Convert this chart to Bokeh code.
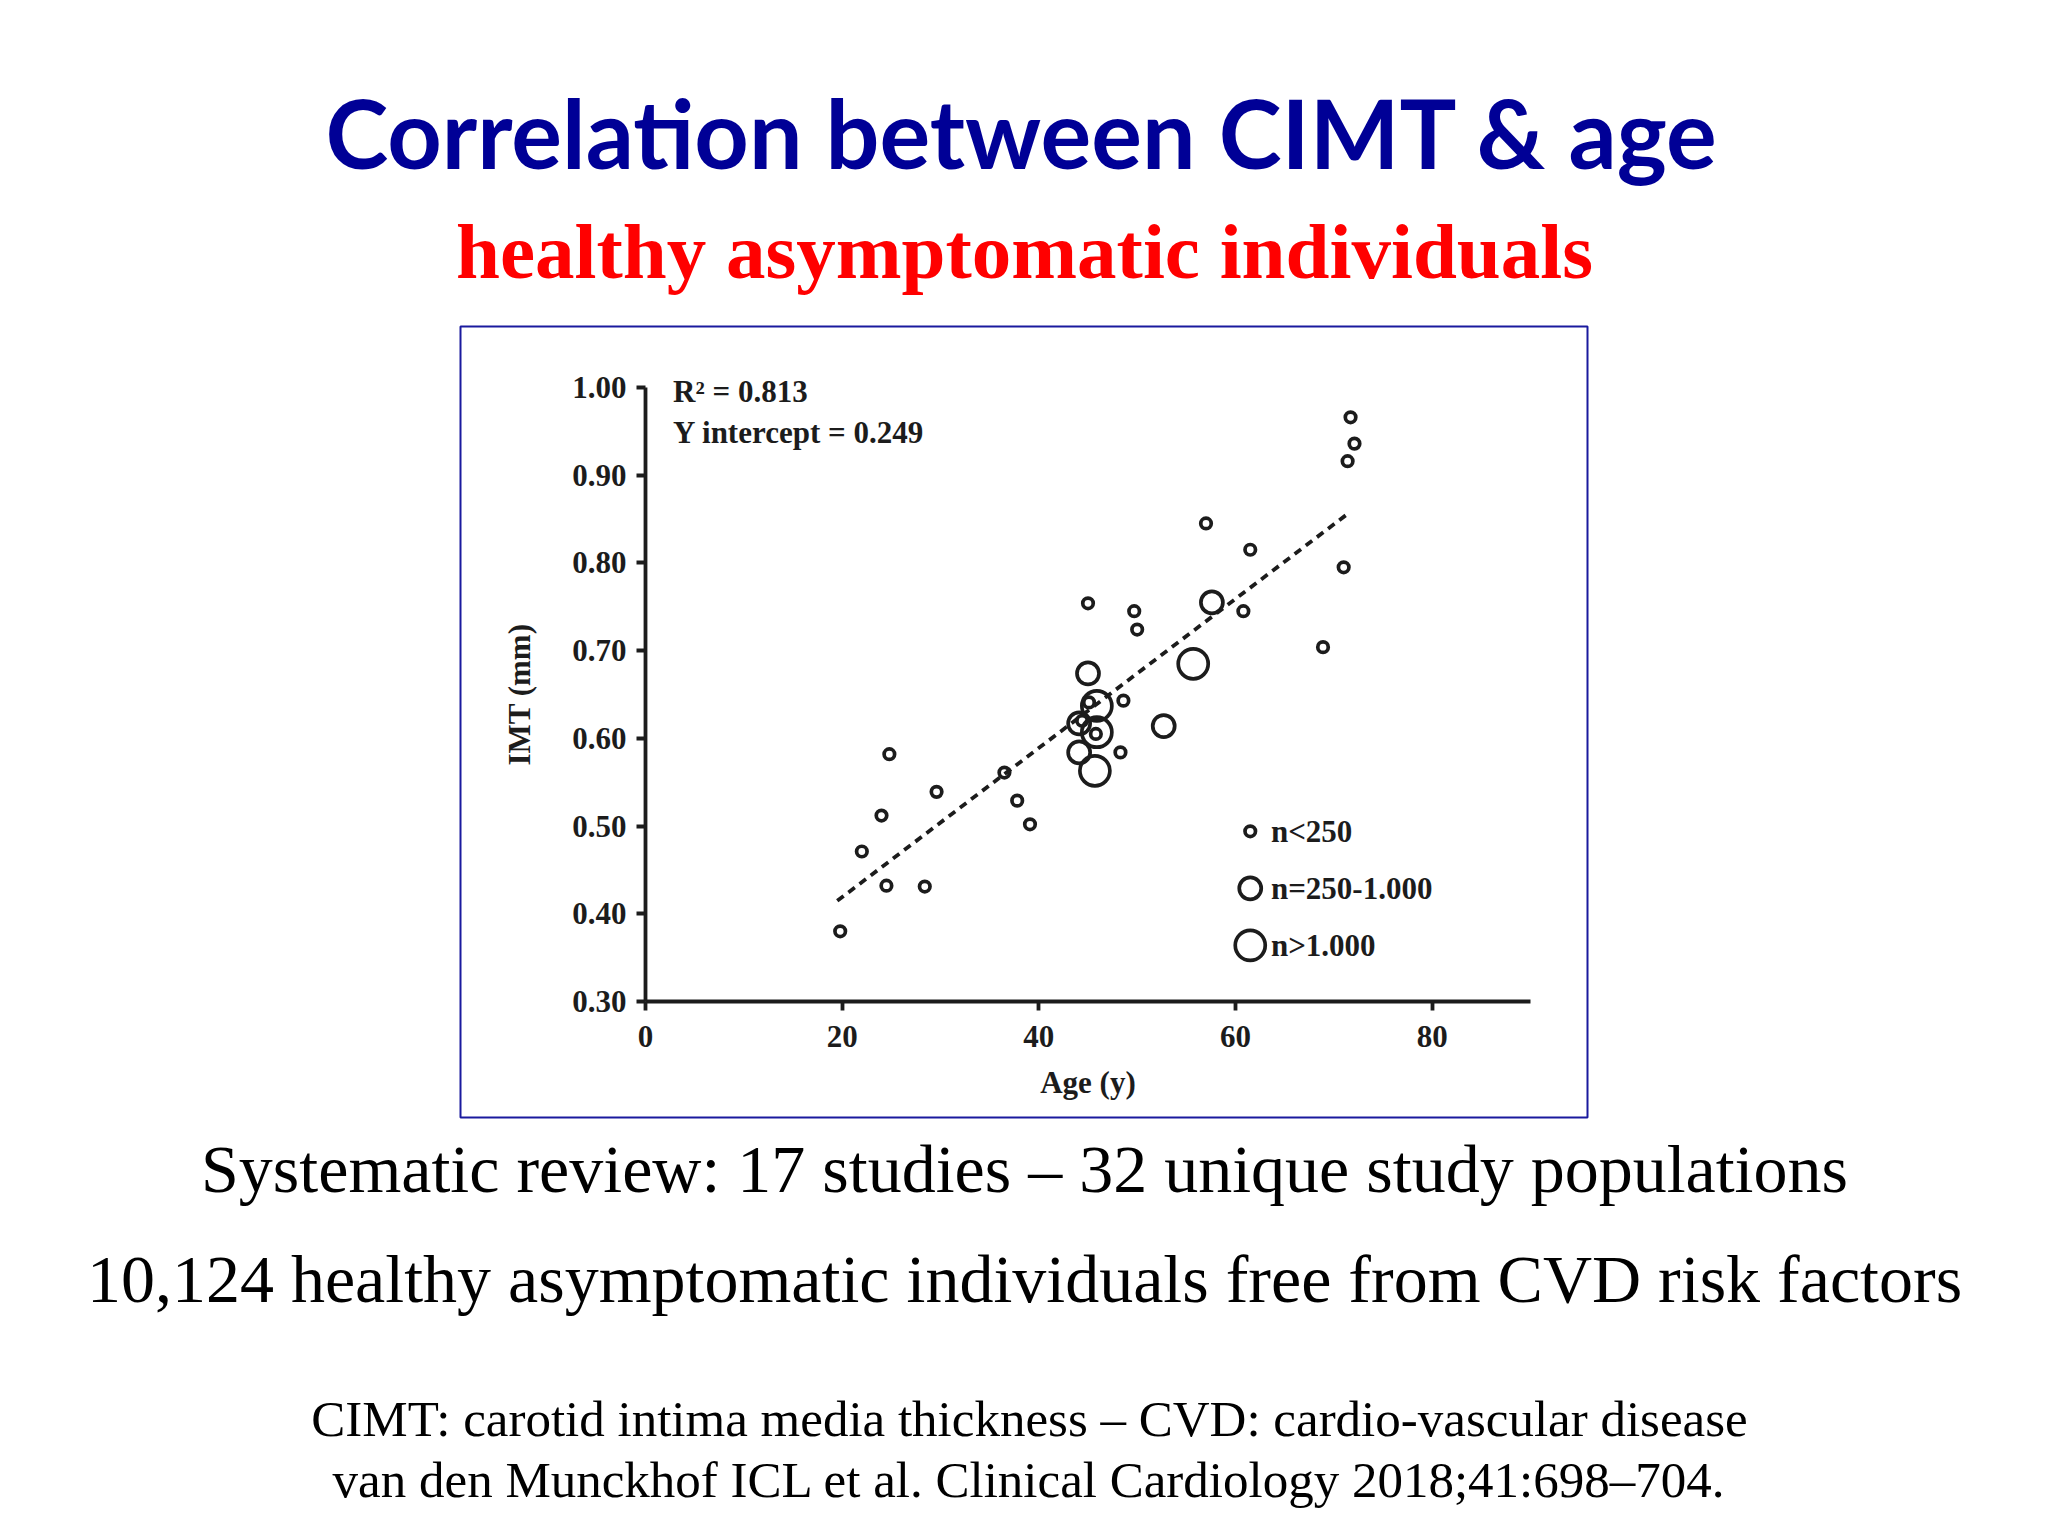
from bokeh.plotting import figure
from bokeh.models import Label, BoxAnnotation, FixedTicker, NumeralTickFormatter, Range1d
from bokeh.embed import file_html
from bokeh.resources import INLINE

# Study populations: mean age (years) and mean CIMT (mm), grouped by sample size
small_age = [19.8, 22.0, 24.0, 24.8, 24.5, 28.4, 29.6, 36.5, 37.8, 39.1,
             45.0, 49.7, 50.0, 60.8, 57.0, 61.5, 68.9, 71.0, 71.4, 72.1, 71.7,
             45.1, 48.6, 45.8, 48.3, 44.4]
small_imt = [0.380, 0.471, 0.512, 0.582, 0.432, 0.431, 0.539, 0.561, 0.529, 0.502,
             0.754, 0.745, 0.724, 0.745, 0.845, 0.815, 0.704, 0.795, 0.916, 0.936, 0.966,
             0.641, 0.643, 0.605, 0.584, 0.620]
medium_age = [57.6, 45.0, 44.1, 52.7, 44.1]
medium_imt = [0.755, 0.674, 0.617, 0.614, 0.584]
large_age = [55.7, 45.9, 45.9, 45.7]
large_imt = [0.685, 0.637, 0.607, 0.563]

# Regression line
trend_intercept = 0.249
trend_slope = 0.0085
trend_age = [19.5, 71.2]
r_squared = 0.813

x_ticks = [0, 20, 40, 60, 80]
y_ticks = [0.30, 0.40, 0.50, 0.60, 0.70, 0.80, 0.90, 1.00]
legend_labels = ["n<250", "n=250-1.000", "n>1.000"]

# ---- page geometry (pixels) ----
W, H = 2048, 1536
AX_L, AX_R, AX_T, AX_B = 645, 1530, 387, 1001   # where the axes sit on the page
AGE_MAX, IMT_MIN, IMT_MAX = 90.0, 0.30, 1.00
px_per_year = (AX_R - AX_L) / AGE_MAX
px_per_mm = (AX_B - AX_T) / (IMT_MAX - IMT_MIN)

# the plotting frame covers the whole page; the data ranges are set so that
# the axes land at the positions above
x_range = Range1d(-AX_L / px_per_year, (W - AX_L) / px_per_year)
y_range = Range1d(IMT_MIN - (H - AX_B) / px_per_mm, IMT_MIN + AX_B / px_per_mm)

SERIF = "Liberation Serif"
INK = "#1c1c1c"

p = figure(width=W, height=H, x_range=x_range, y_range=y_range,
           output_backend="svg", toolbar_location=None,
           min_border=0, min_border_left=0, min_border_right=0,
           min_border_top=0, min_border_bottom=0)
p.background_fill_color = "white"
p.border_fill_color = "white"
p.outline_line_color = None
p.grid.visible = False

xa, ya = p.xaxis[0], p.yaxis[0]
xa.fixed_location = IMT_MIN
xa.bounds = (0, AGE_MAX)
ya.fixed_location = 0
ya.bounds = (IMT_MIN, IMT_MAX)

for ax in (xa, ya):
    ax.axis_line_width = 3.8
    ax.axis_line_color = INK
    ax.major_tick_line_width = 3.8
    ax.major_tick_line_color = INK
    ax.major_tick_out = 9
    ax.major_tick_in = 0
    ax.minor_tick_line_color = None
    ax.major_label_text_font = SERIF
    ax.major_label_text_font_style = "bold"
    ax.major_label_text_font_size = "31px"
    ax.major_label_text_color = INK
    ax.axis_label_text_font = SERIF
    ax.axis_label_text_font_style = "bold"
    ax.axis_label_text_font_size = "31px"
    ax.axis_label_text_color = INK

xa.ticker = FixedTicker(ticks=x_ticks)
ya.ticker = FixedTicker(ticks=y_ticks)
ya.formatter = NumeralTickFormatter(format="0.00")
xa.axis_label = "Age (y)"
ya.axis_label = "IMT (mm)"
xa.major_label_standoff = 15
ya.major_label_standoff = 10
xa.axis_label_standoff = 15
ya.axis_label_standoff = 32


def sx(px):
    return px


def sy(px):
    return H - px


# frame around the figure panel
p.add_layout(BoxAnnotation(left=sx(460), right=sx(1587), top=sy(326), bottom=sy(1117),
                           left_units="screen", right_units="screen",
                           top_units="screen", bottom_units="screen",
                           fill_alpha=0, line_color="#1a1a9e", line_alpha=1.0, line_width=2))

# regression line
p.line(trend_age, [trend_intercept + trend_slope * a for a in trend_age],
       line_color=INK, line_width=3.8, line_dash="8 6")

# study populations
p.scatter(small_age, small_imt, size=10.5, fill_color=None, line_color=INK, line_width=3.7)
p.scatter(medium_age, medium_imt, size=22, fill_color=None, line_color=INK, line_width=3.7)
p.scatter(large_age, large_imt, size=30, fill_color=None, line_color=INK, line_width=3.7)

# in-plot statistics
p.add_layout(Label(x=2.8, y=0.975, text=f"R² = {r_squared:.3f}", text_font=SERIF,
                   text_font_style="bold", text_font_size="31px", text_color=INK))
p.add_layout(Label(x=2.8, y=0.929, text=f"Y intercept = {trend_intercept:.3f}", text_font=SERIF,
                   text_font_style="bold", text_font_size="31px", text_color=INK))

# size legend
legend_x = 61.5
legend_y = [0.494, 0.429, 0.364]
legend_sizes = [10.5, 22, 30]
p.scatter([legend_x] * 3, legend_y, size=legend_sizes, fill_color=None,
          line_color=INK, line_width=3.7)
for lbl, ly in zip(legend_labels, legend_y):
    p.add_layout(Label(x=63.6, y=ly, text=lbl, text_font=SERIF, text_font_style="bold",
                       text_font_size="31px", text_color=INK, text_baseline="middle"))


def page_text(txt, cx, y, size, color, font, style="normal"):
    p.add_layout(Label(x=sx(cx), y=sy(y), x_units="screen", y_units="screen",
                       text=txt, text_align="center", text_baseline="alphabetic",
                       text_font=font, text_font_style=style,
                       text_font_size=f"{size}px", text_color=color))


page_text("Correlation between CIMT & age", 1022, 131, 95, "#000096", "Lato", "bold")
page_text("healthy asymptomatic individuals", 1024, 251, 79, "#ff0000", SERIF, "bold")
page_text("Systematic review: 17 studies – 32 unique study populations", 1024, 1168, 68, "black", SERIF)
page_text("10,124 healthy asymptomatic individuals free from CVD risk factors", 1024, 1278, 68, "black", SERIF)
page_text("CIMT: carotid intima media thickness – CVD: cardio-vascular disease", 1029, 1418, 51, "black", SERIF)
page_text("van den Munckhof ICL et al. Clinical Cardiology 2018;41:698–704.", 1029, 1479, 51, "black", SERIF)

open("out.html", "w").write(file_html(p, INLINE))
